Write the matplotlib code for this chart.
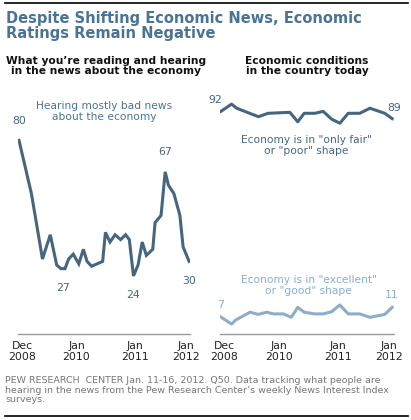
import matplotlib
matplotlib.use("Agg")
import matplotlib.pyplot as plt
from matplotlib.lines import Line2D

# survey points, in months since Dec 2008
news_months = [0, 2.7, 5.1, 6.8, 8.2, 9.1, 10, 10.8, 11.8, 13, 14, 14.8, 15.8, 17,
               18.2, 18.8, 19.8, 20.9, 22.1, 23.2, 24, 24.9, 25.9, 26.8, 27.7, 29.1,
               29.6, 30.9, 31.8, 32.5, 33.7, 35, 35.7, 37]
bad_news = [80, 58, 31, 41, 28.5, 27, 27, 31, 33, 29, 35, 30, 28, 29,
            30, 42, 38, 41, 39, 41, 39, 24, 28.5, 38, 32.5, 35,
            46, 49, 67, 61.5, 58, 49, 36, 30]

cond_months_fair = [0, 2.3, 3.4, 8.1, 10.2, 14.9, 16.6, 18, 20.3, 22.1, 23.9, 25.7,
                    27.5, 30, 32.2, 35.4, 37]
fair_poor = [92, 95, 93.3, 89.8, 91.2, 91.6, 87.7, 91.2, 91.2, 92, 88.8, 87.1,
             91.2, 91.2, 93.3, 91.2, 89]

cond_months_good = [0, 2.3, 3.2, 6.3, 8.1, 9.9, 11.4, 13.5, 15.2, 16.6, 18, 20.3,
                    22.1, 23.9, 25.7, 27.5, 30, 32.2, 35.4, 37]
excellent_good = [7, 4.1, 5.8, 9, 8.1, 9, 8.3, 8.3, 6.9, 11, 9, 8.3,
                  8.3, 9.2, 12, 8.3, 8.3, 6.9, 8.1, 11]

tick_labels = ["Dec\n2008", "Jan\n2010", "Jan\n2011", "Jan\n2012"]

W, H = 411, 420
DARK = "#46667f"
LIGHT = "#8dadc9"
TITLE = "#4b7494"

fig = plt.figure(figsize=(W / 100, H / 100), dpi=100)
plt.rcParams["font.family"] = "DejaVu Sans"


def fx(x):
    return x / W


def fy(y):
    return 1 - y / H


def make_ax(x0, x1):
    ax = fig.add_axes([fx(x0), fy(334), (x1 - x0) / W, 242 / H])
    ax.set_ylim(0, 100)
    for s in ["top", "right", "left"]:
        ax.spines[s].set_visible(False)
    ax.spines["bottom"].set_color("#9a9a9a")
    ax.spines["bottom"].set_linewidth(1)
    ax.set_yticks([])
    ax.set_xticks([0.7, 12.5, 25.2, 36.3])
    ax.set_xticklabels(tick_labels, fontsize=7.8, color="#222222", linespacing=1.15)
    ax.tick_params(axis="x", length=0, pad=5)
    ax.patch.set_alpha(0)
    return ax


# left panel
ax1 = make_ax(18, 190)
ax1.set_xlim(-0.22, 37.2)
ax1.plot(news_months, bad_news, color=DARK, lw=2.2, solid_joinstyle="miter")
for x, v, dy in [(0, 80, 6), (9.5, 27, -6), (24.9, 24, -6), (31.8, 67, 6), (37, 30, -6)]:
    ax1.text(x, v + dy, f"{v}", ha="center", va="bottom" if dy > 0 else "top",
             fontsize=7.8, color=DARK)
ax1.text(18.6, 92, "Hearing mostly bad news\nabout the economy", ha="center", va="center",
         fontsize=7.7, color=TITLE, linespacing=1.1)

# right panel
ax2 = make_ax(220, 394)
ax2.set_xlim(-0.2, 37.4)
ax2.plot(cond_months_fair, fair_poor, color=DARK, lw=2.2)
ax2.plot(cond_months_good, excellent_good, color=LIGHT, lw=2.2)
ax2.text(-1.2, 94.5, "92", ha="center", va="bottom", fontsize=7.8, color=DARK)
ax2.text(37.5, 91.5, "89", ha="center", va="bottom", fontsize=7.8, color=DARK)
ax2.text(0, 10, "7", ha="center", va="bottom", fontsize=7.8, color=LIGHT)
ax2.text(37, 14, "11", ha="center", va="bottom", fontsize=7.8, color=LIGHT)
ax2.text(18.5, 78, 'Economy is in "only fair"\nor "poor" shape', ha="center", va="center",
         fontsize=7.7, color=DARK, linespacing=1.1)
ax2.text(19, 20, 'Economy is in "excellent"\nor "good" shape', ha="center", va="center",
         fontsize=7.7, color=LIGHT, linespacing=1.1)

# titles
fig.text(fx(6), fy(26), "Despite Shifting Economic News, Economic\nRatings Remain Negative",
         ha="left", va="center", fontsize=10.5, fontweight="bold", color=TITLE,
         linespacing=1.05)
fig.text(fx(106), fy(66), "What you\u2019re reading and hearing\nin the news about the economy",
         ha="center", va="center", fontsize=7.7, fontweight="bold", color="#111111",
         linespacing=1.1)
fig.text(fx(307), fy(66), "Economic conditions\nin the country today",
         ha="center", va="center", fontsize=7.7, fontweight="bold", color="#111111",
         linespacing=1.1)

# footer
fig.text(fx(5), fy(376), "PEW RESEARCH  CENTER Jan. 11-16, 2012. Q50. Data tracking what people are\n"
         "hearing in the news from the Pew Research Center\u2019s weekly News Interest Index\nsurveys.",
         ha="left", va="top", fontsize=6.8, color="#777777", linespacing=1.1)

# rules
fig.add_artist(Line2D([fx(5), fx(408)], [fy(3), fy(3)], color="black", lw=1.2))
fig.add_artist(Line2D([fx(5), fx(408)], [fy(416), fy(416)], color="black", lw=1.2))

fig.savefig("out.png", dpi=100)
